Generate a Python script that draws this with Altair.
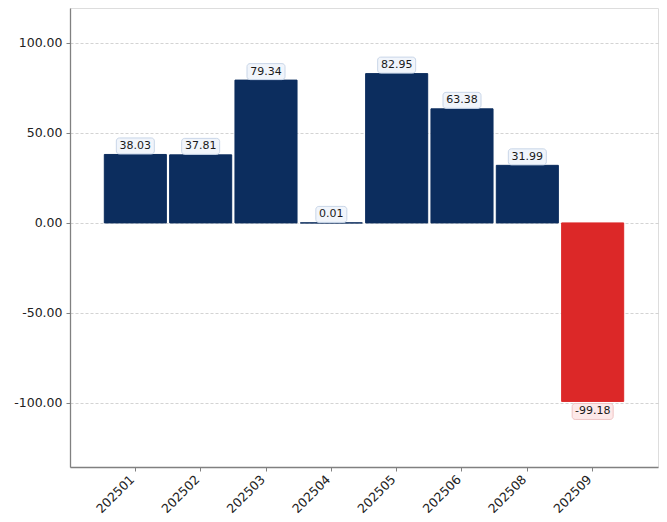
import altair as alt
import pandas as pd

months = ["202501", "202502", "202503", "202504", "202505", "202506", "202508", "202509"]
values = [38.03, 37.81, 79.34, 0.01, 82.95, 63.38, 31.99, -99.18]
y_ticks = [-100, -50, 0, 50, 100]

df = pd.DataFrame({"month": months, "value": values})
df["label"] = [f"{v:.2f}" for v in values]
df["nchar"] = df["label"].str.len()

NAVY = "#0c2d5e"
RED = "#dc2828"

x_enc = alt.X(
    "month:N",
    sort=months,
    title=None,
    scale=alt.Scale(paddingInner=0.05, paddingOuter=0.525),
    axis=alt.Axis(
        labelAngle=-45,
        labelAlign="right",
        labelBaseline="middle",
        labelFont="DejaVu Sans",
        labelFontSize=12.5,
        labelColor="#222222",
        labelPadding=6,
        labelOffset=-3,
        tickSize=4,
        tickColor="#808080",
        domainColor="#808080",
        domainWidth=1.3,
        grid=False,
    ),
)
y_enc = alt.Y(
    "value:Q",
    title=None,
    scale=alt.Scale(domain=[-135.6, 119.4], nice=False, zero=False),
    axis=alt.Axis(
        values=y_ticks,
        format=".2f",
        labelExpr="replace(datum.label, '\u2212', '-')",
        labelFont="DejaVu Sans",
        labelFontSize=12.5,
        labelColor="#222222",
        labelPadding=4,
        tickSize=4,
        tickColor="#808080",
        domainColor="#808080",
        domainWidth=1.3,
        grid=True,
        gridColor="#c8c8c8",
        gridDash=[3, 2],
        gridWidth=0.8,
    ),
)

color = alt.condition(alt.datum.value >= 0, alt.value(NAVY), alt.value(RED))

base = alt.Chart(df)

bars = base.mark_bar(strokeWidth=1).encode(x=x_enc, y=y_enc, color=color, stroke=color)

pos = "datum.value >= 0"
neg = "datum.value < 0"

def box(flt, w, off, fill, stroke):
    return base.transform_filter(flt).mark_rect(
        width=w, height=16, cornerRadius=3, yOffset=off,
        fill=fill, stroke=stroke, strokeWidth=1,
    ).encode(x=alt.X("month:N", sort=months), y="value:Q")

boxes = [
    box(pos + " && datum.nchar == 5", 38, -8.5, "#f1f5fb", "#c9d6e8"),
    box(pos + " && datum.nchar == 4", 31, -8.5, "#f1f5fb", "#c9d6e8"),
    box(neg, 41, 10, "#fde9e9", "#efc4c4"),
]

texts_pos = base.transform_filter(pos).mark_text(
    font="DejaVu Sans", fontSize=11, color="#1a1a1a", baseline="middle", yOffset=-8.5
).encode(x=alt.X("month:N", sort=months), y="value:Q", text="label:N")

texts_neg = base.transform_filter(neg).mark_text(
    font="DejaVu Sans", fontSize=11, color="#1a1a1a", baseline="middle", yOffset=10
).encode(x=alt.X("month:N", sort=months), y="value:Q", text="label:N")

chart = alt.layer(bars, *boxes, texts_pos, texts_neg).properties(
    width=588,
    height=459,
    autosize=alt.AutoSizeParams(type="none"),
    padding={"left": 62, "top": 0, "right": 1, "bottom": 56},
).configure_view(stroke=None).configure(background="white")

chart.save("out.html", embed_options={"renderer": "svg", "actions": False})
